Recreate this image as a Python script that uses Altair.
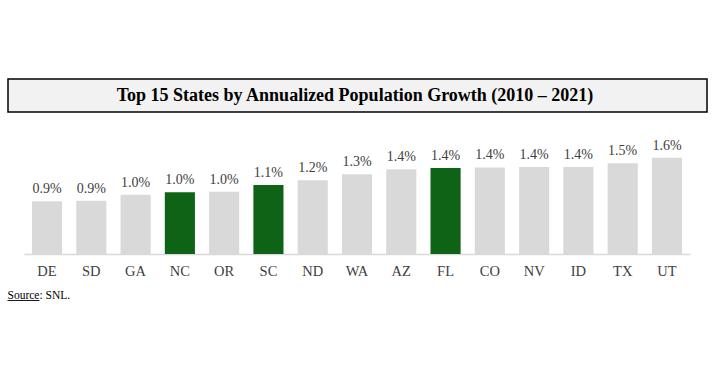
import altair as alt
import pandas as pd

states = ["DE", "SD", "GA", "NC", "OR", "SC", "ND", "WA", "AZ", "FL", "CO", "NV", "ID", "TX", "UT"]
growth = [0.87, 0.88, 0.98, 1.02, 1.03, 1.14, 1.22, 1.32, 1.40, 1.42, 1.43, 1.44, 1.44, 1.50, 1.59]
highlight = ["NC", "SC", "FL"]
title_text = "Top 15 States by Annualized Population Growth (2010 \u2013 2021)"

df = pd.DataFrame({"state": states, "growth": growth})
df["group"] = ["hl" if s in highlight else "other" for s in states]
df["label"] = [f"{v:.1f}%" for v in growth]

FONT = "Liberation Serif"
W, H = 666, 121

x = alt.X("state:N", sort=states,
          scale=alt.Scale(paddingInner=0.32, paddingOuter=0.18),
          axis=alt.Axis(title=None, labelAngle=0, ticks=False, domainColor="#D9D9D9",
                        domainWidth=1.5, labelFont=FONT, labelFontSize=14.5,
                        labelColor="#404040", labelPadding=10))
y = alt.Y("growth:Q", scale=alt.Scale(domain=[0, 2]), axis=None)

base = alt.Chart(df)

bars = base.mark_bar().encode(
    x=x, y=y,
    color=alt.Color("group:N", scale=alt.Scale(domain=["other", "hl"], range=["#D9D9D9", "#0E6316"]), legend=None),
)

labels = base.mark_text(font=FONT, fontSize=14, color="#404040", baseline="alphabetic", dy=-8).encode(
    x=alt.X("state:N", sort=states), y="growth:Q", text="label:N"
)

box = alt.Chart(pd.DataFrame({"t": [title_text]})).mark_rect(
    fill="#F2F2F2", stroke="#000000", strokeWidth=1.5
).encode(x=alt.value(-16), x2=alt.value(683), y=alt.value(-54), y2=alt.value(-21))

title = alt.Chart(pd.DataFrame({"t": [title_text]})).mark_text(
    font=FONT, fontSize=18, fontWeight="bold", color="#000000", baseline="middle", align="center"
).encode(x=alt.value(331), y=alt.value(-37), text="t:N")

source = alt.Chart(pd.DataFrame({"t": ["Source: SNL."]})).mark_text(
    font=FONT, fontSize=11.5, color="#000000", baseline="alphabetic", align="left"
).encode(x=alt.value(-16.5), y=alt.value(166), text="t:N")

underline = alt.Chart(pd.DataFrame({"t": ["Source"]})).mark_rule(color="#000000", strokeWidth=0.9).encode(
    x=alt.value(-16.5), x2=alt.value(15.5), y=alt.value(167.5)
)

chart = alt.layer(box, title, bars, labels, source, underline).properties(
    width=W, height=H,
    autosize=alt.AutoSizeParams(type="none"),
    padding={"left": 24, "right": 24, "top": 133, "bottom": 121},
    background="white",
).configure_view(stroke=None)

chart.save("out.html", embed_options={"renderer": "svg", "actions": False})
